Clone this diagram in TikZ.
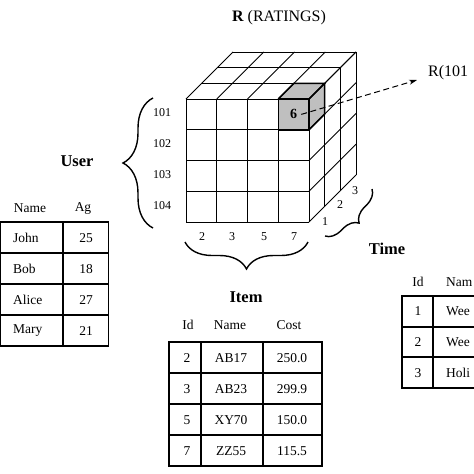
\documentclass[tikz,border=0pt]{standalone}
\usepackage{fontspec}
\setmainfont{Liberation Serif}
\usetikzlibrary{decorations.pathreplacing,arrows.meta}
\begin{document}
\begin{tikzpicture}[x=1pt,y=-1pt,
  cube/.style={line width=0.9pt},
  tbl/.style={line width=1.3pt},
  lbl/.style={font=\fontsize{12}{14}\selectfont, inner sep=0pt},
  ttxt/.style={font=\fontsize{13.5}{16}\selectfont, inner sep=0pt},
  big/.style={font=\fontsize{16.5}{19}\selectfont\bfseries, inner sep=0pt},
  bracestyle/.style={line width=1.4pt, decorate, decoration={brace, amplitude=#1}}]
\useasboundingbox (0,0) rectangle (474,474);
\clip (0,0) rectangle (474,474);
\fill[white] (0,0) rectangle (474,474);
% title
\node[font=\fontsize{16}{19}\selectfont, inner sep=0pt] (title) at (279,18) {\textbf{R} (RATINGS)};
% cube geometry
\def\cs{30.75}
\def\dd{15.667}
% shaded cell
\fill[gray!50] (278.25,99) rectangle (309,129.75);
\fill[gray!50] (278.25,99) -- (309,99) -- (324.67,83.33) -- (293.92,83.33) -- cycle;
\fill[gray!50] (309,99) -- (324.67,83.33) -- (324.67,114.08) -- (309,129.75) -- cycle;
% front grid
\foreach \i in {0,...,4} {
  \draw[cube] (186+\i*\cs,99) -- (186+\i*\cs,222);
  \draw[cube] (186,99+\i*\cs) -- (309,99+\i*\cs);
}
% top face
\foreach \k in {1,...,3} {
  \draw[cube] (186+\k*\dd,99-\k*\dd) -- (309+\k*\dd,99-\k*\dd);
}
\foreach \i in {0,...,4} {
  \draw[cube] (186+\i*\cs,99) -- (186+\i*\cs+3*\dd,99-3*\dd);
}
% right face
\foreach \k in {1,...,3} {
  \draw[cube] (309+\k*\dd,99-\k*\dd) -- (309+\k*\dd,222-\k*\dd);
}
\foreach \j in {0,...,4} {
  \draw[cube] (309,99+\j*\cs) -- (309+3*\dd,99+\j*\cs-3*\dd);
}
% shaded cube outline
\draw[line width=1.5pt] (278.25,99) rectangle (309,129.75);
\draw[line width=1.5pt] (278.25,99) -- (293.92,83.33) -- (324.67,83.33) -- (309,99);
\draw[line width=1.5pt] (324.67,83.33) -- (324.67,114.08) -- (309,129.75);
\node[font=\fontsize{14}{16}\selectfont\bfseries, inner sep=1pt] (six) at (293.6,114.4) {6};
% arrow to R label
\node[font=\fontsize{16}{19}\selectfont, inner sep=0pt, anchor=west] (rlabel) at (428,73) {R(101};
\coordinate (tip) at (417,80);
\draw[line width=1pt, dash pattern=on 6pt off 3.5pt, -{Stealth[length=8pt,width=5pt]}] ([xshift=3pt]six.east) -- (tip);
% row labels
\node[lbl] (r101) at (162,113) {101};
\node[lbl] (r102) at (162,144) {102};
\node[lbl] (r103) at (162,175) {103};
\node[lbl] (r104) at (162,206) {104};
% column labels
\node[lbl] (c2) at (202,237) {2};
\node[lbl] (c3) at (232,237) {3};
\node[lbl] (c5) at (264,237) {5};
\node[lbl] (c7) at (294,237) {7};
% time labels
\node[lbl] (t1) at (325,222) {1};
\node[lbl] (t2) at (340,205) {2};
\node[lbl] (t3) at (355,191) {3};
% braces
\coordinate (ub1) at (153,228);
\coordinate (ub2) at (153,98);
\draw[bracestyle=30pt] (ub1) -- (ub2);
\coordinate (ib1) at (308,242);
\coordinate (ib2) at (185,242);
\draw[bracestyle=27pt] (ib1) -- (ib2);
\coordinate (tb1) at (372,189);
\coordinate (tb2) at (325,236);
\draw[bracestyle=15pt] (tb1) -- (tb2);
% big labels
\node[big] (user) at (77,161) {User};
\node[big] (item) at (246,297) {Item};
\node[big] (time) at (387,249) {Time};
% user table
\node[ttxt] (hn) at (30,208) {Name};
\node[ttxt] (ha) at (83,208) {Ag};
\draw[tbl] (0.7,222) rectangle (108.5,346);
\draw[tbl] (63,222) -- (63,346);
\foreach \y in {253,284,315} { \draw[tbl] (0.7,\y) -- (108.5,\y); }
\node[ttxt, anchor=west] (u1) at (13,238) {John};
\node[ttxt, anchor=west] (u2) at (13,269) {Bob};
\node[ttxt, anchor=west] (u3) at (13,300) {Alice};
\node[ttxt, anchor=west] (u4) at (13,331) {Mary};
\node[ttxt] (a1) at (86,238) {25};
\node[ttxt] (a2) at (86,269) {18};
\node[ttxt] (a3) at (86,300) {27};
\node[ttxt] (a4) at (86,331) {21};
% item table
\node[ttxt] (hid) at (188,325) {Id};
\node[ttxt] (hname) at (230,325) {Name};
\node[ttxt] (hcost) at (289,325) {Cost};
\draw[tbl] (169,342) rectangle (322,466);
\draw[tbl] (201,342) -- (201,466);
\draw[tbl] (263,342) -- (263,466);
\foreach \y in {373,404,435} { \draw[tbl] (169,\y) -- (322,\y); }
\node[ttxt] (i1) at (187,358) {2};
\node[ttxt] (i2) at (187,389) {3};
\node[ttxt] (i3) at (187,420) {5};
\node[ttxt] (i4) at (187,451) {7};
\node[ttxt] (n1) at (231,358) {AB17};
\node[ttxt] (n2) at (231,389) {AB23};
\node[ttxt] (n3) at (231,420) {XY70};
\node[ttxt] (n4) at (231,451) {ZZ55};
\node[ttxt] (k1) at (292,358) {250.0};
\node[ttxt] (k2) at (292,389) {299.9};
\node[ttxt] (k3) at (292,420) {150.0};
\node[ttxt] (k4) at (292,451) {115.5};
% time table
\node[ttxt] (tid) at (418,282) {Id};
\node[ttxt, anchor=west] (tname) at (446,282) {Nam};
\draw[tbl] (480,296) -- (402,296) -- (402,388) -- (480,388);
\draw[tbl] (433,296) -- (433,388);
\foreach \y in {327,357} { \draw[tbl] (402,\y) -- (480,\y); }
\node[ttxt] (d1) at (418,311) {1};
\node[ttxt] (d2) at (418,342) {2};
\node[ttxt] (d3) at (418,373) {3};
\node[ttxt, anchor=west] (w1) at (446,311) {Wee};
\node[ttxt, anchor=west] (w2) at (446,342) {Wee};
\node[ttxt, anchor=west] (w3) at (446,373) {Holi};
\end{tikzpicture}
\end{document}
